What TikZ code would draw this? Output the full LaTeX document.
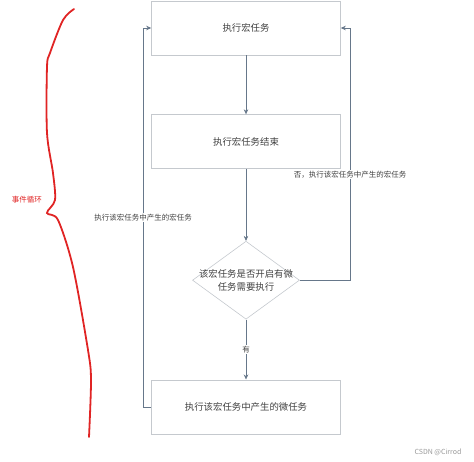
\documentclass[tikz,border=0pt]{standalone}
\usepackage{fontspec}
\setmainfont{Noto Sans CJK SC}
\usetikzlibrary{shapes.geometric,positioning,arrows.meta}
\definecolor{linegray}{HTML}{66778A}
\definecolor{boxgray}{HTML}{C5C9CE}
\definecolor{loopred}{HTML}{E02424}
\tikzset{
	>={Stealth[length=5pt,width=4.5pt]}, % small filled arrow heads
	x=1pt, y=-1pt, % one unit is one pixel of the picture, y runs downwards
	task/.style={draw=boxgray, line width=0.6pt, minimum width=189pt, minimum height=54pt, inner sep=0pt, font=\fontsize{9.4}{11}\selectfont, text=black!75}, % the rectangular steps
	decide/.style={draw=boxgray, line width=0.6pt, diamond, minimum width=107pt, minimum height=78pt, inner sep=0pt}, % the question
	flow/.style={->, draw=linegray, line width=0.6pt}, % the connectors
	note/.style={font=\fontsize{7.5}{9}\selectfont, text=black!75, fill=white, inner sep=1pt}, % texts on the connectors
}
\begin{document}
\begin{tikzpicture}
	\useasboundingbox (0,0) rectangle (474,461);
	\node[task] (macro) at (246,28) {执行宏任务};
	\node[task,below=59pt of macro] (macroend) {执行宏任务结束};
	\node[decide,below=72pt of macroend] (check) {};
	\node[align=center,font=\fontsize{9.4}{13}\selectfont,text=black!75] (checktext) at (check) {该宏任务是否开启有微\\任务需要执行};
	\node[task,below=60pt of check] (micro) {执行该宏任务中产生的微任务};
	
	\coordinate (rightlane) at (350,0);
	\coordinate (leftlane) at (143,0);
	
	\draw[flow] (macro) -- (macroend);
	\draw[flow] (macroend) -- (check);
	\draw[flow] (check) -- node[note]{有} (micro);
	\draw[flow] (check.east) -- (check.east -| rightlane) -- node[note,pos=0.42]{否，执行该宏任务中产生的宏任务} (macro.east -| rightlane) -- (macro.east);
	\draw[flow] (micro.west) -- (micro.west -| leftlane) -- node[note]{执行该宏任务中产生的宏任务} (macro.west -| leftlane) -- (macro.west);
	
	% the brace drawn by hand
	\draw[loopred,line width=1.8pt,line cap=round] plot[smooth,tension=0.5] coordinates {(74,9) (63,20) (50,53) (47,67) (47,133) (53,173) (55,200) (47,213) (58,220) (73,267) (88,350) (91,380) (89,437)};
	\node[text=loopred,font=\fontsize{7.5}{9}\selectfont] (looplabel) at (27,200) {事件循环};
	
	\node[text=gray!80,font=\fontsize{7}{8}\selectfont] (mark) at (438,452) {CSDN @Cirrod};
\end{tikzpicture}
\end{document}
